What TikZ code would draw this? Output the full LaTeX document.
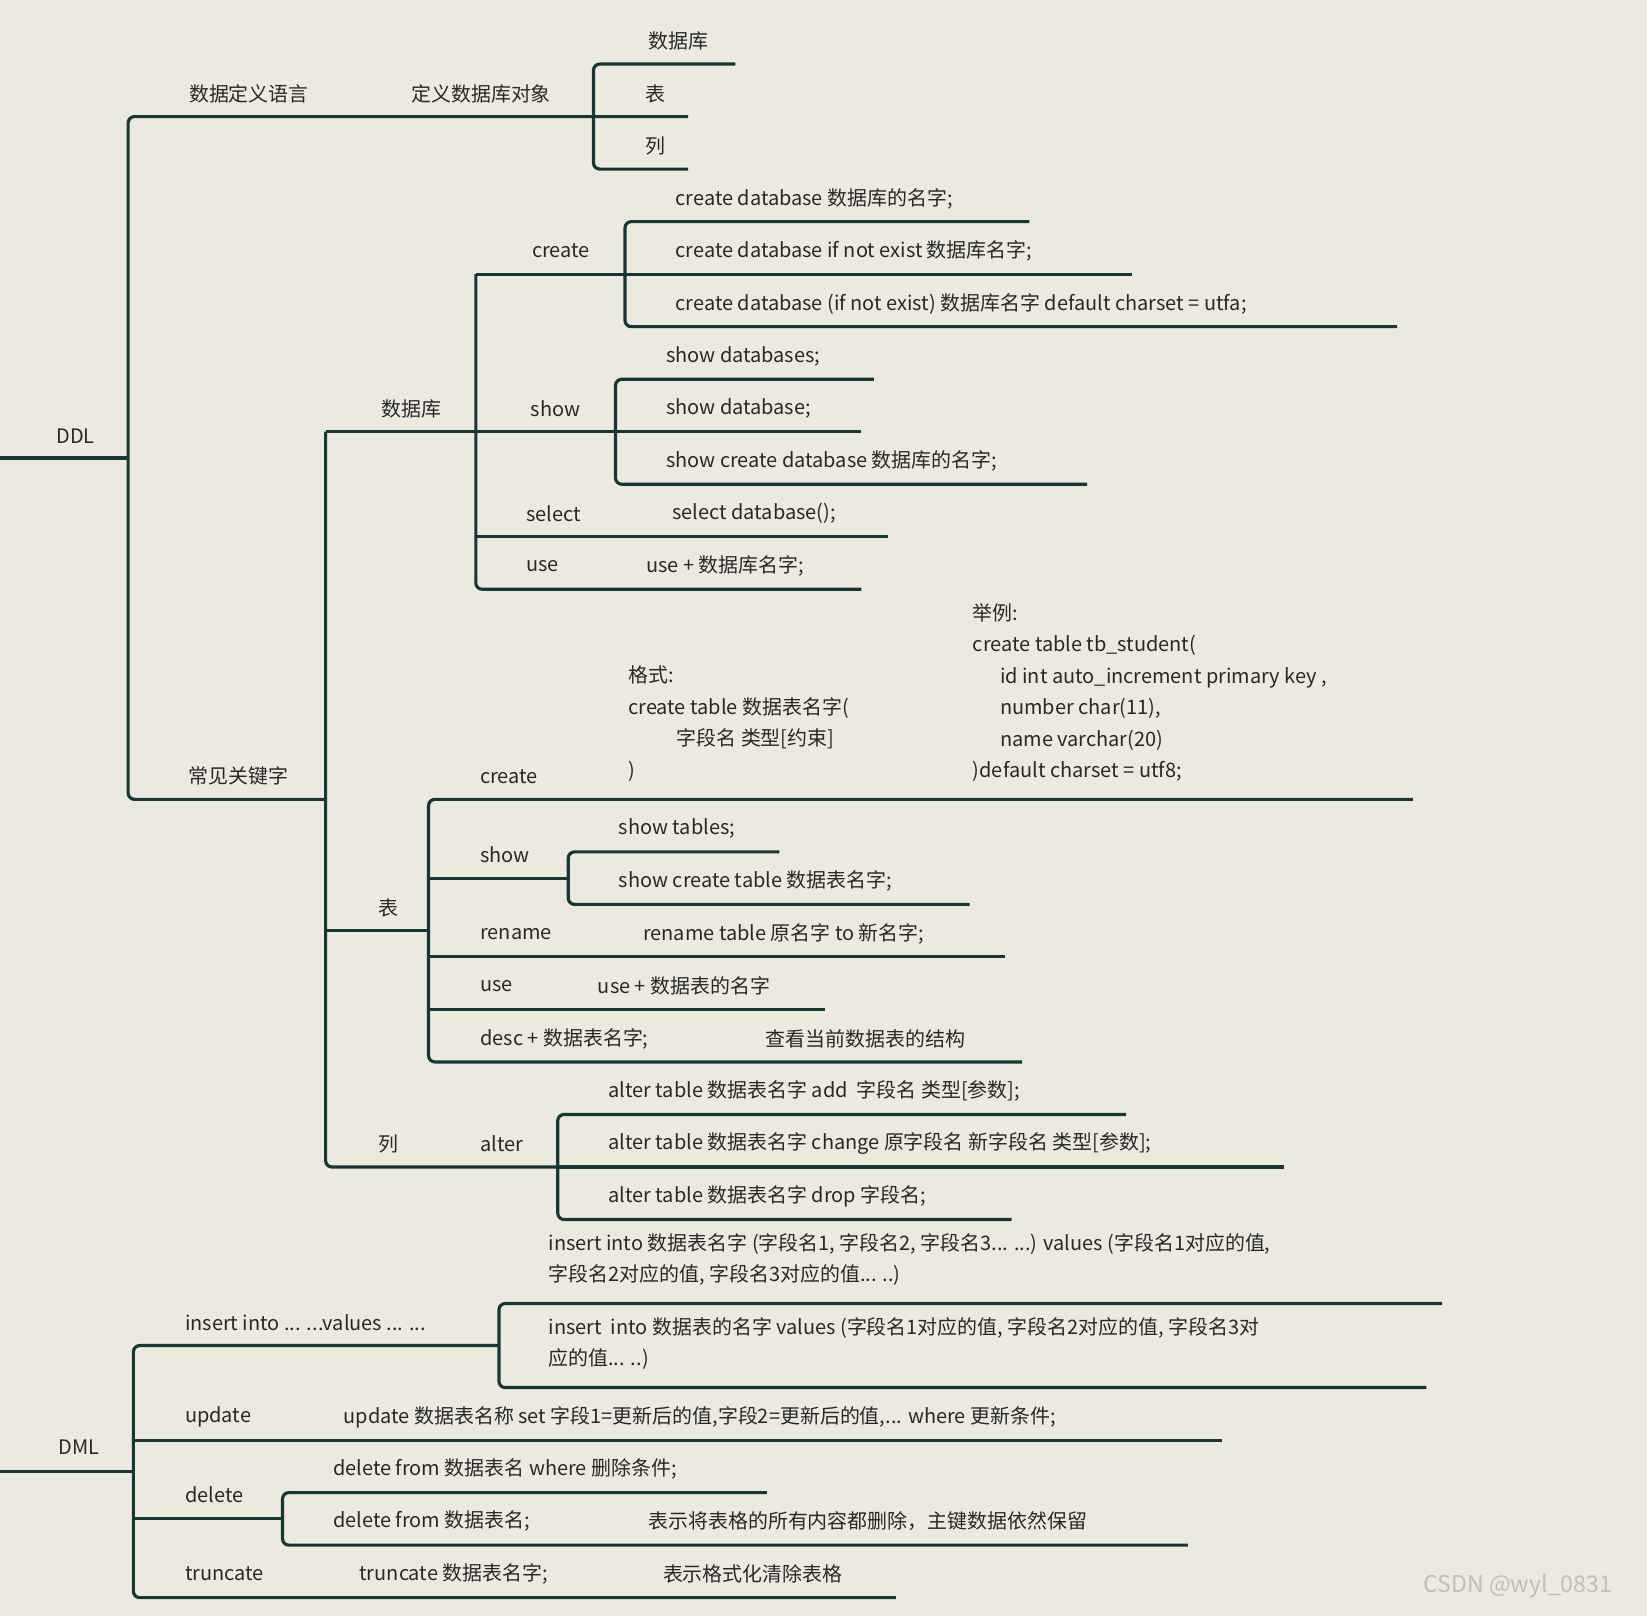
\documentclass[tikz,border=0pt]{standalone}
\usepackage{fontspec}
\setmainfont{Noto Sans CJK SC}
\begin{document}
\begin{tikzpicture}[x=1pt,y=-1pt,
  br/.style={draw=linec,line width=3pt,rounded corners=6pt},
  t/.style={anchor=west,inner sep=0pt,text=txtc,font=\fontsize{19}{30}\selectfont},
  tc/.style={anchor=center,inner sep=0pt,text=txtc,font=\fontsize{19}{30}\selectfont},
  blk/.style={anchor=north west,inner sep=0pt,text=txtc,align=left,font=\fontsize{19}{30}\selectfont}]
\definecolor{bgc}{RGB}{236,233,222}
\definecolor{linec}{RGB}{22,56,52}
\definecolor{txtc}{RGB}{40,40,40}
\fill[bgc] (0,0) rectangle (1568,1538);
\useasboundingbox (0,0) rectangle (1568,1538);
% DDL
\draw[br] (0,436) -- (122,436);
\node[tc] (ddl) at (72,415) {DDL};
\draw[br] (700,61) -- (565,61) -- (565,161) -- (655,161);
\draw[br] (655,111) -- (122,111) -- (122,761) -- (310,761);
\node[tc] (a1) at (237,89) {数据定义语言};
\node[tc] (a2) at (458,89) {定义数据库对象};
\node[tc] (a3) at (646,39) {数据库};
\node[tc] (a4) at (624,89) {表};
\node[tc] (a5) at (624,139) {列};
\node[tc] (a6) at (227,739) {常见关键字};
% 数据库 branch
\draw[br] (310,411) -- (310,1111) -- (531,1111);
\draw[br] (453,411) -- (310,411);
\node[tc] (b0) at (392,389) {数据库};
\draw[br] (453,261) -- (453,561) -- (820,561);
\draw[br] (1078,261) -- (453,261);
\draw[br] (980,211) -- (595,211) -- (595,311) -- (1330,311);
\node[tc] (b1) at (534,239) {create};
\node[t] (b2) at (643,189) {create database 数据库的名字;};
\node[t] (b3) at (643,239) {create database if not exist 数据库名字;};
\node[t] (b4) at (643,289) {create database (if not exist) 数据库名字 default charset = utfa;};
\draw[br] (453,411) -- (820,411);
\draw[br] (832,361) -- (586,361) -- (586,461) -- (1035,461);
\node[tc] (b5) at (529,389) {show};
\node[t] (b6) at (634,339) {show databases;};
\node[t] (b7) at (634,389) {show database;};
\node[t] (b8) at (634,439) {show create database 数据库的名字;};
\draw[br] (453,511) -- (845,511);
\node[t] (b9) at (501,489) {select};
\node[t] (b10) at (640,489) {select database();};
\node[t] (b11) at (501,539) {use};
\node[t] (b12) at (615,539) {use + 数据库名字;};
% 表 branch
\draw[br] (310,886) -- (408,886);
\node[tc] (c0) at (370,864) {表};
\draw[br] (1345,761) -- (408,761) -- (408,1011) -- (973,1011);
\node[t] (c1) at (457,739) {create};
\node[blk] (c2) at (598,634) {格式:\\create table 数据表名字(\\\hspace*{46pt}字段名 类型[约束]\\)};
\node[blk] (c3) at (926,574) {举例:\\create table tb\_student(\\\hspace*{26pt}id int auto\_increment primary key ,\\\hspace*{26pt}number char(11),\\\hspace*{26pt}name varchar(20)\\)default charset = utf8;};
\draw[br] (408,836) -- (541,836);
\draw[br] (742,811) -- (541,811) -- (541,861) -- (923,861);
\node[t] (c4) at (457,814) {show};
\node[t] (c5) at (589,789) {show tables;};
\node[t] (c6) at (589,839) {show create table 数据表名字;};
\draw[br] (408,911) -- (957,911);
\node[t] (c7) at (457,889) {rename};
\node[t] (c8) at (612,889) {rename table 原名字 to 新名字;};
\draw[br] (408,961) -- (785,961);
\node[t] (c9) at (457,939) {use};
\node[t] (c10) at (569,939) {use + 数据表的名字};
\node[t] (c11) at (457,989) {desc + 数据表名字;};
\node[t] (c12) at (729,989) {查看当前数据表的结构};
% 列 branch
\node[tc] (d0) at (370,1089) {列};
\node[t] (d1) at (457,1089) {alter};
\draw[br] (1072,1061) -- (531,1061) -- (531,1161) -- (963,1161);
\draw[br] (531,1111) -- (1222,1111);
\node[t] (d2) at (579,1039) {alter table 数据表名字 add\ \ 字段名 类型[参数];};
\node[t] (d3) at (579,1089) {alter table 数据表名字 change 原字段名 新字段名 类型[参数];};
\node[t] (d4) at (579,1139) {alter table 数据表名字 drop 字段名;};
% DML
\draw[br] (0,1401) -- (127,1401);
\node[tc] (dml) at (75,1378) {DML};
\draw[br] (475,1281) -- (127,1281) -- (127,1521) -- (853,1521);
\draw[br] (1373,1241) -- (475,1241) -- (475,1321) -- (1358,1321);
\node[t] (e1) at (176,1259) {insert into ... ...values ... ...};
\node[blk] (e2) at (522,1174) {insert into 数据表名字 (字段名1, 字段名2, 字段名3... ...) values (字段名1对应的值,\\字段名2对应的值, 字段名3对应的值... ..)};
\node[blk] (e3) at (522,1254) {insert\ \ into 数据表的名字 values (字段名1对应的值, 字段名2对应的值, 字段名3对\\应的值... ..)};
\draw[br] (127,1371) -- (1163,1371);
\node[t] (e4) at (176,1349) {update};
\node[t] (e5) at (327,1349) {update 数据表名称 set 字段1=更新后的值,字段2=更新后的值,... where 更新条件;};
\draw[br] (127,1446) -- (269,1446);
\draw[br] (730,1421) -- (269,1421) -- (269,1471) -- (1131,1471);
\node[t] (e6) at (176,1423) {delete};
\node[t] (e7) at (317,1398) {delete from 数据表名 where 删除条件;};
\node[t] (e8) at (317,1448) {delete from 数据表名;};
\node[t] (e9) at (617,1448) {表示将表格的所有内容都删除，主键数据依然保留};
\node[t] (e10) at (176,1498) {truncate};
\node[t] (e11) at (342,1498) {truncate 数据表名字;};
\node[t] (e12) at (631,1498) {表示格式化清除表格};
\node[anchor=center,inner sep=0pt,text=black!25,font=\fontsize{22}{26}\selectfont] (wm) at (1445,1510) {CSDN @wyl\_0831};
\end{tikzpicture}
\end{document}
